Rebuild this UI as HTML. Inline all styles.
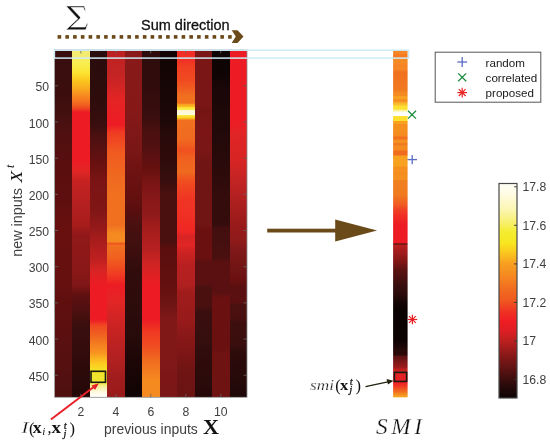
<!DOCTYPE html>
<html><head><meta charset="utf-8"><style>
html,body{margin:0;padding:0;background:#fff;}
svg{display:block;}
.sans{font-family:"Liberation Sans",Arial,sans-serif;}
.serif{font-family:"Liberation Serif","Times New Roman",serif;}
</style></head><body>
<svg width="550" height="444" viewBox="0 0 550 444">
<defs><linearGradient id="c0" gradientUnits="userSpaceOnUse" x1="0" y1="50.0" x2="0" y2="397.3"><stop offset="0.0000" stop-color="#380e0e"/><stop offset="0.1296" stop-color="#3c0e0e"/><stop offset="0.1872" stop-color="#441010"/><stop offset="0.2390" stop-color="#501010"/><stop offset="0.3311" stop-color="#5a0e0e"/><stop offset="0.4319" stop-color="#5e0e0e"/><stop offset="0.5039" stop-color="#681010"/><stop offset="0.6766" stop-color="#661010"/><stop offset="0.7198" stop-color="#600e0e"/><stop offset="0.8350" stop-color="#5a1010"/><stop offset="0.9991" stop-color="#501010"/></linearGradient><linearGradient id="c1" gradientUnits="userSpaceOnUse" x1="0" y1="50.0" x2="0" y2="397.3"><stop offset="0.0000" stop-color="#f4ec70"/><stop offset="0.0216" stop-color="#f4ec70"/><stop offset="0.0245" stop-color="#f6ee60"/><stop offset="0.0461" stop-color="#f8ec48"/><stop offset="0.0691" stop-color="#fce030"/><stop offset="0.0864" stop-color="#fcc820"/><stop offset="0.1094" stop-color="#f9ac20"/><stop offset="0.1267" stop-color="#f89020"/><stop offset="0.1440" stop-color="#f57820"/><stop offset="0.1584" stop-color="#f06020"/><stop offset="0.1699" stop-color="#f04022"/><stop offset="0.1785" stop-color="#ed1c24"/><stop offset="0.2303" stop-color="#ed1c24"/><stop offset="0.3167" stop-color="#ed1c24"/><stop offset="0.3513" stop-color="#e02525"/><stop offset="0.3743" stop-color="#c82222"/><stop offset="0.4319" stop-color="#b82020"/><stop offset="0.5039" stop-color="#a81c1c"/><stop offset="0.5327" stop-color="#901818"/><stop offset="0.6335" stop-color="#8a1818"/><stop offset="0.6766" stop-color="#801616"/><stop offset="0.7054" stop-color="#601010"/><stop offset="0.7486" stop-color="#4e1010"/><stop offset="0.7918" stop-color="#3a0e0e"/><stop offset="0.8638" stop-color="#340c0c"/><stop offset="0.9214" stop-color="#2c0a0a"/><stop offset="0.9991" stop-color="#250808"/></linearGradient><linearGradient id="c2" gradientUnits="userSpaceOnUse" x1="0" y1="50.0" x2="0" y2="397.3"><stop offset="0.0000" stop-color="#2a0c0c"/><stop offset="0.1440" stop-color="#2e0c0c"/><stop offset="0.2160" stop-color="#3a0e0e"/><stop offset="0.2447" stop-color="#4a1010"/><stop offset="0.2879" stop-color="#5a1010"/><stop offset="0.3311" stop-color="#6a1010"/><stop offset="0.3743" stop-color="#7a1414"/><stop offset="0.4607" stop-color="#801616"/><stop offset="0.5183" stop-color="#981a1a"/><stop offset="0.5471" stop-color="#a81c1c"/><stop offset="0.6047" stop-color="#c02020"/><stop offset="0.6335" stop-color="#d82424"/><stop offset="0.6766" stop-color="#ed1c24"/><stop offset="0.7774" stop-color="#ed1c24"/><stop offset="0.7947" stop-color="#f04a22"/><stop offset="0.8293" stop-color="#f06a20"/><stop offset="0.8494" stop-color="#f58020"/><stop offset="0.8696" stop-color="#f89020"/><stop offset="0.8868" stop-color="#fbb020"/><stop offset="0.9070" stop-color="#fcd020"/><stop offset="0.9243" stop-color="#f2e22a"/><stop offset="0.9559" stop-color="#f0e630"/><stop offset="0.9703" stop-color="#f8f0a0"/><stop offset="0.9847" stop-color="#fff8e0"/><stop offset="0.9991" stop-color="#ffffff"/></linearGradient><linearGradient id="c3" gradientUnits="userSpaceOnUse" x1="0" y1="50.0" x2="0" y2="397.3"><stop offset="0.0000" stop-color="#b82020"/><stop offset="0.0230" stop-color="#c02222"/><stop offset="0.0720" stop-color="#c42424"/><stop offset="0.1094" stop-color="#d42424"/><stop offset="0.1440" stop-color="#e42424"/><stop offset="0.2160" stop-color="#ed1c24"/><stop offset="0.2361" stop-color="#f03a22"/><stop offset="0.2649" stop-color="#f04a22"/><stop offset="0.2937" stop-color="#f05a20"/><stop offset="0.3225" stop-color="#f06020"/><stop offset="0.3686" stop-color="#f06a20"/><stop offset="0.4175" stop-color="#f07020"/><stop offset="0.5039" stop-color="#f07020"/><stop offset="0.5298" stop-color="#f58a20"/><stop offset="0.5528" stop-color="#f58a20"/><stop offset="0.5557" stop-color="#f05a20"/><stop offset="0.5600" stop-color="#f05a20"/><stop offset="0.5629" stop-color="#f07020"/><stop offset="0.5989" stop-color="#f06020"/><stop offset="0.6191" stop-color="#f05020"/><stop offset="0.6479" stop-color="#f03a22"/><stop offset="0.6766" stop-color="#ed1c24"/><stop offset="0.7198" stop-color="#e42525"/><stop offset="0.7630" stop-color="#d42424"/><stop offset="0.8206" stop-color="#c42222"/><stop offset="0.8926" stop-color="#b02020"/><stop offset="0.9502" stop-color="#a01c1c"/><stop offset="0.9991" stop-color="#981a1a"/></linearGradient><linearGradient id="c4" gradientUnits="userSpaceOnUse" x1="0" y1="50.0" x2="0" y2="397.3"><stop offset="0.0000" stop-color="#8a1a1a"/><stop offset="0.1728" stop-color="#861818"/><stop offset="0.2303" stop-color="#801818"/><stop offset="0.2879" stop-color="#7a1616"/><stop offset="0.3455" stop-color="#6e1212"/><stop offset="0.4175" stop-color="#661010"/><stop offset="0.4607" stop-color="#5a0e0e"/><stop offset="0.5039" stop-color="#4a1010"/><stop offset="0.5759" stop-color="#3e0e0e"/><stop offset="0.6335" stop-color="#320c0c"/><stop offset="0.7198" stop-color="#2e0c0c"/><stop offset="0.8350" stop-color="#260a0a"/><stop offset="0.8926" stop-color="#1e0606"/><stop offset="0.9991" stop-color="#100404"/></linearGradient><linearGradient id="c5" gradientUnits="userSpaceOnUse" x1="0" y1="50.0" x2="0" y2="397.3"><stop offset="0.0000" stop-color="#2e0c0c"/><stop offset="0.1152" stop-color="#320c0c"/><stop offset="0.1958" stop-color="#3a0e0e"/><stop offset="0.2303" stop-color="#4a1010"/><stop offset="0.2735" stop-color="#501010"/><stop offset="0.3023" stop-color="#5a1010"/><stop offset="0.3455" stop-color="#681010"/><stop offset="0.3801" stop-color="#7a1414"/><stop offset="0.4319" stop-color="#881818"/><stop offset="0.4751" stop-color="#901a1a"/><stop offset="0.5039" stop-color="#a01c1c"/><stop offset="0.5759" stop-color="#b82020"/><stop offset="0.6191" stop-color="#d02424"/><stop offset="0.6766" stop-color="#ed1c24"/><stop offset="0.7774" stop-color="#ed1c24"/><stop offset="0.8120" stop-color="#f03a22"/><stop offset="0.8494" stop-color="#f04a22"/><stop offset="0.8926" stop-color="#f06a20"/><stop offset="0.9502" stop-color="#f58a20"/><stop offset="0.9991" stop-color="#f58a20"/></linearGradient><linearGradient id="c6" gradientUnits="userSpaceOnUse" x1="0" y1="50.0" x2="0" y2="397.3"><stop offset="0.0000" stop-color="#120404"/><stop offset="0.1440" stop-color="#180606"/><stop offset="0.2016" stop-color="#1e0808"/><stop offset="0.2591" stop-color="#2a0a0a"/><stop offset="0.3311" stop-color="#300c0c"/><stop offset="0.3743" stop-color="#380e0e"/><stop offset="0.4175" stop-color="#4a1010"/><stop offset="0.5528" stop-color="#4a1010"/><stop offset="0.5701" stop-color="#5a0e0e"/><stop offset="0.6335" stop-color="#600e0e"/><stop offset="0.6910" stop-color="#661010"/><stop offset="0.7198" stop-color="#6a1414"/><stop offset="0.7774" stop-color="#801818"/><stop offset="0.8926" stop-color="#801818"/><stop offset="0.9991" stop-color="#7a1616"/></linearGradient><linearGradient id="c7" gradientUnits="userSpaceOnUse" x1="0" y1="50.0" x2="0" y2="397.3"><stop offset="0.0000" stop-color="#f02c24"/><stop offset="0.0288" stop-color="#f03024"/><stop offset="0.0489" stop-color="#f04022"/><stop offset="0.0864" stop-color="#f04a20"/><stop offset="0.1094" stop-color="#f05a20"/><stop offset="0.1325" stop-color="#f07020"/><stop offset="0.1526" stop-color="#f07020"/><stop offset="0.1569" stop-color="#f8a020"/><stop offset="0.1641" stop-color="#fcc020"/><stop offset="0.1659" stop-color="#f8e830"/><stop offset="0.1713" stop-color="#fce850"/><stop offset="0.1742" stop-color="#fff8d0"/><stop offset="0.1857" stop-color="#fffbe0"/><stop offset="0.1886" stop-color="#fbe840"/><stop offset="0.1958" stop-color="#fcd020"/><stop offset="0.1987" stop-color="#f8a020"/><stop offset="0.2030" stop-color="#f07020"/><stop offset="0.2591" stop-color="#f06a20"/><stop offset="0.2879" stop-color="#f05020"/><stop offset="0.3110" stop-color="#f06020"/><stop offset="0.3513" stop-color="#f06a20"/><stop offset="0.3743" stop-color="#f05020"/><stop offset="0.4031" stop-color="#f04022"/><stop offset="0.4319" stop-color="#f03424"/><stop offset="0.4751" stop-color="#f03024"/><stop offset="0.5240" stop-color="#ee2624"/><stop offset="0.5356" stop-color="#d82424"/><stop offset="0.5615" stop-color="#e02525"/><stop offset="0.5903" stop-color="#c82222"/><stop offset="0.6191" stop-color="#b82020"/><stop offset="0.6766" stop-color="#b02020"/><stop offset="0.6968" stop-color="#a01c1c"/><stop offset="0.7774" stop-color="#981a1a"/><stop offset="0.8206" stop-color="#8a1818"/><stop offset="0.8638" stop-color="#801616"/><stop offset="0.9214" stop-color="#701414"/><stop offset="0.9991" stop-color="#6a1414"/></linearGradient><linearGradient id="c8" gradientUnits="userSpaceOnUse" x1="0" y1="50.0" x2="0" y2="397.3"><stop offset="0.0000" stop-color="#7a1616"/><stop offset="0.1584" stop-color="#7a1616"/><stop offset="0.1728" stop-color="#741414"/><stop offset="0.2303" stop-color="#7c1616"/><stop offset="0.2879" stop-color="#7a1616"/><stop offset="0.3311" stop-color="#701414"/><stop offset="0.5039" stop-color="#701414"/><stop offset="0.5183" stop-color="#6a1010"/><stop offset="0.5989" stop-color="#6a1010"/><stop offset="0.6104" stop-color="#5a1010"/><stop offset="0.6709" stop-color="#5a1010"/><stop offset="0.6853" stop-color="#4a1010"/><stop offset="0.7371" stop-color="#4a1010"/><stop offset="0.7544" stop-color="#3a0e0e"/><stop offset="0.8350" stop-color="#360e0e"/><stop offset="0.8782" stop-color="#300c0c"/><stop offset="0.9646" stop-color="#2a0a0a"/><stop offset="0.9991" stop-color="#250808"/></linearGradient><linearGradient id="c9" gradientUnits="userSpaceOnUse" x1="0" y1="50.0" x2="0" y2="397.3"><stop offset="0.0000" stop-color="#0e0404"/><stop offset="0.0806" stop-color="#100404"/><stop offset="0.0921" stop-color="#180606"/><stop offset="0.1728" stop-color="#1e0808"/><stop offset="0.2879" stop-color="#260a0a"/><stop offset="0.3455" stop-color="#2c0a0a"/><stop offset="0.4175" stop-color="#340c0c"/><stop offset="0.5010" stop-color="#340c0c"/><stop offset="0.5125" stop-color="#420e0e"/><stop offset="0.5989" stop-color="#4a1010"/><stop offset="0.6104" stop-color="#5a1010"/><stop offset="0.6997" stop-color="#5a1010"/><stop offset="0.7141" stop-color="#6a1010"/><stop offset="0.8638" stop-color="#6a1010"/><stop offset="0.8782" stop-color="#701212"/><stop offset="0.9991" stop-color="#6e1212"/></linearGradient><linearGradient id="c10" gradientUnits="userSpaceOnUse" x1="0" y1="50.0" x2="0" y2="397.3"><stop offset="0.0000" stop-color="#ed1c24"/><stop offset="0.2016" stop-color="#ed1c24"/><stop offset="0.2447" stop-color="#e02525"/><stop offset="0.3167" stop-color="#d82424"/><stop offset="0.3599" stop-color="#c82424"/><stop offset="0.4319" stop-color="#b02020"/><stop offset="0.5039" stop-color="#981a1a"/><stop offset="0.5471" stop-color="#901a1a"/><stop offset="0.5759" stop-color="#801818"/><stop offset="0.6335" stop-color="#701414"/><stop offset="0.6623" stop-color="#6a1010"/><stop offset="0.6824" stop-color="#5a1010"/><stop offset="0.7256" stop-color="#5a1010"/><stop offset="0.7342" stop-color="#4a1010"/><stop offset="0.7717" stop-color="#4a1010"/><stop offset="0.7832" stop-color="#3e0e0e"/><stop offset="0.8494" stop-color="#3a0e0e"/><stop offset="0.8638" stop-color="#300c0c"/><stop offset="0.8926" stop-color="#2a0a0a"/><stop offset="0.9502" stop-color="#260a0a"/><stop offset="0.9991" stop-color="#200808"/></linearGradient><linearGradient id="smi" gradientUnits="userSpaceOnUse" x1="0" y1="50.0" x2="0" y2="397.3"><stop offset="0.0000" stop-color="#f57a20"/><stop offset="0.0086" stop-color="#f58a28"/><stop offset="0.0144" stop-color="#f57a20"/><stop offset="0.0230" stop-color="#f57a20"/><stop offset="0.0259" stop-color="#f58a25"/><stop offset="0.0403" stop-color="#f58a25"/><stop offset="0.0461" stop-color="#f58025"/><stop offset="0.0518" stop-color="#f58a25"/><stop offset="0.0576" stop-color="#f58025"/><stop offset="0.0633" stop-color="#f07020"/><stop offset="0.1152" stop-color="#f07a20"/><stop offset="0.1238" stop-color="#f58a20"/><stop offset="0.1336" stop-color="#f58a20"/><stop offset="0.1339" stop-color="#f8a020"/><stop offset="0.1411" stop-color="#f8a020"/><stop offset="0.1414" stop-color="#f59020"/><stop offset="0.1492" stop-color="#f59020"/><stop offset="0.1497" stop-color="#f8a828"/><stop offset="0.1595" stop-color="#fcc830"/><stop offset="0.1612" stop-color="#fde030"/><stop offset="0.1699" stop-color="#fde030"/><stop offset="0.1728" stop-color="#f8f080"/><stop offset="0.1785" stop-color="#fffbe0"/><stop offset="0.1814" stop-color="#ffffff"/><stop offset="0.1886" stop-color="#ffffff"/><stop offset="0.1900" stop-color="#fde030"/><stop offset="0.2030" stop-color="#fde030"/><stop offset="0.2044" stop-color="#f8a020"/><stop offset="0.2119" stop-color="#f8a020"/><stop offset="0.2131" stop-color="#f59020"/><stop offset="0.2332" stop-color="#f59020"/><stop offset="0.2404" stop-color="#f58a20"/><stop offset="0.2476" stop-color="#f58a20"/><stop offset="0.2505" stop-color="#f07020"/><stop offset="0.2563" stop-color="#f07020"/><stop offset="0.2591" stop-color="#f59020"/><stop offset="0.2663" stop-color="#f59020"/><stop offset="0.2678" stop-color="#f07a20"/><stop offset="0.2735" stop-color="#f07a20"/><stop offset="0.2764" stop-color="#f58a20"/><stop offset="0.2879" stop-color="#f58a20"/><stop offset="0.2908" stop-color="#f06a20"/><stop offset="0.3023" stop-color="#f06a20"/><stop offset="0.3052" stop-color="#f8a020"/><stop offset="0.3340" stop-color="#f8a020"/><stop offset="0.3369" stop-color="#f59020"/><stop offset="0.3513" stop-color="#f59020"/><stop offset="0.3542" stop-color="#f58a20"/><stop offset="0.3628" stop-color="#f59020"/><stop offset="0.3729" stop-color="#f59020"/><stop offset="0.3743" stop-color="#f08020"/><stop offset="0.4175" stop-color="#f07a20"/><stop offset="0.4319" stop-color="#f06a20"/><stop offset="0.4463" stop-color="#f05a22"/><stop offset="0.4607" stop-color="#f04024"/><stop offset="0.4751" stop-color="#f03024"/><stop offset="0.5039" stop-color="#ed1c24"/><stop offset="0.5543" stop-color="#ed1c24"/><stop offset="0.5557" stop-color="#801818"/><stop offset="0.5600" stop-color="#801818"/><stop offset="0.5615" stop-color="#b82020"/><stop offset="0.5759" stop-color="#a81c1c"/><stop offset="0.5903" stop-color="#981a1a"/><stop offset="0.6104" stop-color="#801616"/><stop offset="0.6335" stop-color="#5a1212"/><stop offset="0.6565" stop-color="#4a1010"/><stop offset="0.6766" stop-color="#3a0e0e"/><stop offset="0.7054" stop-color="#2a0a0a"/><stop offset="0.7285" stop-color="#140404"/><stop offset="0.7486" stop-color="#0a0202"/><stop offset="0.8350" stop-color="#0c0202"/><stop offset="0.8523" stop-color="#1a0606"/><stop offset="0.8667" stop-color="#2a0a0a"/><stop offset="0.8696" stop-color="#2a0808"/><stop offset="0.8782" stop-color="#2a0808"/><stop offset="0.8811" stop-color="#5a1212"/><stop offset="0.8897" stop-color="#6a1414"/><stop offset="0.8984" stop-color="#801818"/><stop offset="0.9070" stop-color="#901a1a"/><stop offset="0.9156" stop-color="#a01c1c"/><stop offset="0.9185" stop-color="#c02020"/><stop offset="0.9272" stop-color="#c82222"/><stop offset="0.9300" stop-color="#e02525"/><stop offset="0.9559" stop-color="#ed1c24"/><stop offset="0.9646" stop-color="#f03024"/><stop offset="0.9732" stop-color="#f04a22"/><stop offset="0.9790" stop-color="#f06020"/><stop offset="0.9847" stop-color="#f07020"/><stop offset="0.9905" stop-color="#f58a20"/><stop offset="0.9963" stop-color="#f8a020"/><stop offset="1.0000" stop-color="#f8a020"/></linearGradient><linearGradient id="cb" gradientUnits="userSpaceOnUse" x1="0" y1="183.5" x2="0" y2="398"><stop offset="0.0000" stop-color="#fffff8"/><stop offset="0.0536" stop-color="#fffbe0"/><stop offset="0.1235" stop-color="#fbf6b0"/><stop offset="0.1795" stop-color="#f8f070"/><stop offset="0.2261" stop-color="#f4ec30"/><stop offset="0.2774" stop-color="#f8e620"/><stop offset="0.3100" stop-color="#fcd020"/><stop offset="0.3427" stop-color="#f8b820"/><stop offset="0.3706" stop-color="#f8a020"/><stop offset="0.4126" stop-color="#f59020"/><stop offset="0.4499" stop-color="#f58020"/><stop offset="0.4965" stop-color="#f06a20"/><stop offset="0.5431" stop-color="#f05a20"/><stop offset="0.5991" stop-color="#f03024"/><stop offset="0.6457" stop-color="#ed1c24"/><stop offset="0.6830" stop-color="#e01e24"/><stop offset="0.7296" stop-color="#c02020"/><stop offset="0.7995" stop-color="#8a1818"/><stop offset="0.8695" stop-color="#5a1212"/><stop offset="0.9394" stop-color="#2a0a0a"/><stop offset="1.0000" stop-color="#0e0404"/></linearGradient></defs>
<rect width="550" height="444" fill="#fff"/>
<!-- sigma + sum direction -->
<text transform="translate(64.6,24.1) scale(1.16,1)" font-family="DejaVu Math TeX Gyre, DejaVu Serif, serif" font-size="22.45" fill="#111" stroke="#fff" stroke-width="0.35">&#8721;</text>
<text class="sans" x="141" y="29.7" font-size="14.5" fill="#111" stroke="#111" stroke-width="0.3">Sum direction</text>
<g fill="#6b4a1a"><rect x="57.60" y="35.1" width="3.6" height="3.6"/><rect x="65.35" y="35.1" width="3.6" height="3.6"/><rect x="73.10" y="35.1" width="3.6" height="3.6"/><rect x="80.85" y="35.1" width="3.6" height="3.6"/><rect x="88.60" y="35.1" width="3.6" height="3.6"/><rect x="96.35" y="35.1" width="3.6" height="3.6"/><rect x="104.10" y="35.1" width="3.6" height="3.6"/><rect x="111.85" y="35.1" width="3.6" height="3.6"/><rect x="119.60" y="35.1" width="3.6" height="3.6"/><rect x="127.35" y="35.1" width="3.6" height="3.6"/><rect x="135.10" y="35.1" width="3.6" height="3.6"/><rect x="142.85" y="35.1" width="3.6" height="3.6"/><rect x="150.60" y="35.1" width="3.6" height="3.6"/><rect x="158.35" y="35.1" width="3.6" height="3.6"/><rect x="166.10" y="35.1" width="3.6" height="3.6"/><rect x="173.85" y="35.1" width="3.6" height="3.6"/><rect x="181.60" y="35.1" width="3.6" height="3.6"/><rect x="189.35" y="35.1" width="3.6" height="3.6"/><rect x="197.10" y="35.1" width="3.6" height="3.6"/><rect x="204.85" y="35.1" width="3.6" height="3.6"/><rect x="212.60" y="35.1" width="3.6" height="3.6"/><rect x="220.35" y="35.1" width="3.6" height="3.6"/><rect x="228.10" y="35.1" width="3.6" height="3.6"/></g>
<polygon points="231.7,30.2 237.5,30.2 243.5,36.6 237.5,43 231.7,43 235.8,36.6" fill="#6b4a1a"/>
<!-- heatmap -->
<g shape-rendering="crispEdges"><rect x="54.60" y="50.0" width="17.79" height="347.30" fill="url(#c0)"/><rect x="72.09" y="50.0" width="17.79" height="347.30" fill="url(#c1)"/><rect x="89.58" y="50.0" width="17.79" height="347.30" fill="url(#c2)"/><rect x="107.07" y="50.0" width="17.79" height="347.30" fill="url(#c3)"/><rect x="124.56" y="50.0" width="17.79" height="347.30" fill="url(#c4)"/><rect x="142.05" y="50.0" width="17.79" height="347.30" fill="url(#c5)"/><rect x="159.54" y="50.0" width="17.79" height="347.30" fill="url(#c6)"/><rect x="177.03" y="50.0" width="17.79" height="347.30" fill="url(#c7)"/><rect x="194.52" y="50.0" width="17.79" height="347.30" fill="url(#c8)"/><rect x="212.01" y="50.0" width="17.79" height="347.30" fill="url(#c9)"/><rect x="229.50" y="50.0" width="17.79" height="347.30" fill="url(#c10)"/></g>
<rect x="54.6" y="50.0" width="192.39" height="347.30" fill="none" stroke="#8a8a8a" stroke-width="0.8"/>
<g stroke="#666" stroke-width="0.8"><line x1="54.6" y1="85.82" x2="58.1" y2="85.82"/><line x1="246.98999999999998" y1="85.82" x2="243.48999999999998" y2="85.82"/><line x1="54.6" y1="121.99" x2="58.1" y2="121.99"/><line x1="246.98999999999998" y1="121.99" x2="243.48999999999998" y2="121.99"/><line x1="54.6" y1="158.17" x2="58.1" y2="158.17"/><line x1="246.98999999999998" y1="158.17" x2="243.48999999999998" y2="158.17"/><line x1="54.6" y1="194.35" x2="58.1" y2="194.35"/><line x1="246.98999999999998" y1="194.35" x2="243.48999999999998" y2="194.35"/><line x1="54.6" y1="230.52" x2="58.1" y2="230.52"/><line x1="246.98999999999998" y1="230.52" x2="243.48999999999998" y2="230.52"/><line x1="54.6" y1="266.70" x2="58.1" y2="266.70"/><line x1="246.98999999999998" y1="266.70" x2="243.48999999999998" y2="266.70"/><line x1="54.6" y1="302.88" x2="58.1" y2="302.88"/><line x1="246.98999999999998" y1="302.88" x2="243.48999999999998" y2="302.88"/><line x1="54.6" y1="339.05" x2="58.1" y2="339.05"/><line x1="246.98999999999998" y1="339.05" x2="243.48999999999998" y2="339.05"/><line x1="54.6" y1="375.23" x2="58.1" y2="375.23"/><line x1="246.98999999999998" y1="375.23" x2="243.48999999999998" y2="375.23"/><line x1="80.84" y1="397.3" x2="80.84" y2="393.8"/><line x1="80.84" y1="50.0" x2="80.84" y2="53.5"/><line x1="115.81" y1="397.3" x2="115.81" y2="393.8"/><line x1="115.81" y1="50.0" x2="115.81" y2="53.5"/><line x1="150.79" y1="397.3" x2="150.79" y2="393.8"/><line x1="150.79" y1="50.0" x2="150.79" y2="53.5"/><line x1="185.77" y1="397.3" x2="185.77" y2="393.8"/><line x1="185.77" y1="50.0" x2="185.77" y2="53.5"/><line x1="220.75" y1="397.3" x2="220.75" y2="393.8"/><line x1="220.75" y1="50.0" x2="220.75" y2="53.5"/></g>
<g class="sans" font-size="12.2" fill="#404040"><text x="49" y="91.3" text-anchor="end">50</text><text x="49" y="127.5" text-anchor="end">100</text><text x="49" y="163.7" text-anchor="end">150</text><text x="49" y="199.8" text-anchor="end">200</text><text x="49" y="236.0" text-anchor="end">250</text><text x="49" y="272.2" text-anchor="end">300</text><text x="49" y="308.4" text-anchor="end">350</text><text x="49" y="344.6" text-anchor="end">400</text><text x="49" y="380.7" text-anchor="end">450</text><text x="80.8" y="415.6" text-anchor="middle">2</text><text x="115.8" y="415.6" text-anchor="middle">4</text><text x="150.8" y="415.6" text-anchor="middle">6</text><text x="185.8" y="415.6" text-anchor="middle">8</text><text x="220.8" y="415.6" text-anchor="middle">10</text></g>
<!-- highlight box -->
<rect x="91" y="371.3" width="14.5" height="11" fill="none" stroke="#1a1a10" stroke-width="1.6"/>
<!-- SMI column -->
<rect x="393.1" y="50.0" width="14.5" height="347.30" fill="url(#smi)"/>
<rect x="394.4" y="372.4" width="12.2" height="9" fill="none" stroke="#1a1a10" stroke-width="1.6"/>
<!-- light blue box -->
<rect x="54.4" y="50.2" width="354.2" height="7.9" fill="none" stroke="#cdebf6" stroke-width="1.5"/>
<!-- axis labels -->
<text class="sans" x="104" y="434.1" font-size="13.95" fill="#404040">previous inputs</text>
<text class="serif" x="203" y="433.6" font-size="21" font-weight="bold" fill="#111" textLength="16" lengthAdjust="spacingAndGlyphs">X</text>
<g transform="translate(21.5,256.8) rotate(-90)">
<text class="sans" x="0" y="0" font-size="14.4" fill="#404040">new inputs</text>
<text class="serif" x="74.3" y="0" font-size="17" font-style="italic" fill="#111" textLength="11.7" lengthAdjust="spacingAndGlyphs">X</text>
<text class="serif" x="88.8" y="-8" font-size="12" font-style="italic" fill="#111">t</text>
</g>
<!-- I(x_i,x_j^t) -->
<g class="serif" fill="#111">
<text x="21.3" y="432.7" font-size="16.5" font-style="italic" textLength="7.4" lengthAdjust="spacingAndGlyphs" stroke="#fff" stroke-width="0.3">I</text>
<text x="29" y="433.5" font-size="16.5">(</text>
<text x="32.7" y="432.7" font-size="16" font-weight="bold" textLength="8.9" lengthAdjust="spacingAndGlyphs">x</text>
<text x="42.2" y="435" font-size="11" font-style="italic">i</text>
<text x="47.6" y="432.7" font-size="16">,</text>
<text x="51.6" y="432.7" font-size="16" font-weight="bold" textLength="9.5" lengthAdjust="spacingAndGlyphs">x</text>
<text x="63.8" y="428.6" font-size="11" font-style="italic" stroke="#111" stroke-width="0.25">t</text>
<text x="63.6" y="436.9" font-size="10.5" font-style="italic" stroke="#111" stroke-width="0.25">j</text>
<text x="69.4" y="433.5" font-size="16.5">)</text>
</g>
<line x1="50.9" y1="419.5" x2="96" y2="385.3" stroke="#e8202a" stroke-width="2"/>
<polygon points="98.9,383.2 91.5,385.5 95,390" fill="#e8202a"/>
<!-- big arrow -->
<rect x="267.2" y="228.7" width="69" height="3.8" fill="#6b4a1a"/>
<polygon points="335.2,219.5 377.1,230.4 335.2,241.4" fill="#6b4a1a"/>
<!-- markers -->
<g stroke="#1a8a3a" stroke-width="1.3"><line x1="408" y1="110.8" x2="416" y2="118.6"/><line x1="408" y1="118.6" x2="416" y2="110.8"/></g>
<g stroke="#5a6cc8" stroke-width="1.3"><line x1="407.5" y1="159.6" x2="417" y2="159.6"/><line x1="412.2" y1="155" x2="412.2" y2="164.2"/></g>
<g stroke="#e82020" stroke-width="1.2"><line x1="407.6" y1="319.5" x2="417.2" y2="319.5"/><line x1="412.4" y1="314.7" x2="412.4" y2="324.3"/><line x1="409" y1="316.1" x2="415.8" y2="322.9"/><line x1="409" y1="322.9" x2="415.8" y2="316.1"/></g>
<!-- legend -->
<rect x="435.2" y="52.2" width="105.6" height="50" fill="#fff" stroke="#555" stroke-width="1"/>
<g stroke="#5a6cc8" stroke-width="1.3"><line x1="457.3" y1="62" x2="467.1" y2="62"/><line x1="462.2" y1="57.1" x2="462.2" y2="66.9"/></g>
<g stroke="#1a8a3a" stroke-width="1.3"><line x1="458.2" y1="73.4" x2="466.2" y2="81.2"/><line x1="458.2" y1="81.2" x2="466.2" y2="73.4"/></g>
<g stroke="#e82020" stroke-width="1.2"><line x1="457.4" y1="92.6" x2="467" y2="92.6"/><line x1="462.2" y1="87.8" x2="462.2" y2="97.4"/><line x1="458.8" y1="89.2" x2="465.6" y2="96"/><line x1="458.8" y1="96" x2="465.6" y2="89.2"/></g>
<g class="sans" font-size="11.6" fill="#1a1a1a">
<text x="485.6" y="66.6">random</text>
<text x="485.6" y="81.6">correlated</text>
<text x="485.6" y="96.8">proposed</text>
</g>
<!-- colorbar -->
<rect x="499" y="183.5" width="18" height="214.5" fill="url(#cb)" stroke="#484848" stroke-width="1.2"/>
<g stroke="#333" stroke-width="0.9"><line x1="517" y1="186.8" x2="514" y2="186.8"/><line x1="517" y1="225.3" x2="514" y2="225.3"/><line x1="517" y1="263.9" x2="514" y2="263.9"/><line x1="517" y1="302.4" x2="514" y2="302.4"/><line x1="517" y1="340.9" x2="514" y2="340.9"/><line x1="517" y1="379.4" x2="514" y2="379.4"/></g>
<g class="sans" font-size="12.2" fill="#404040"><text x="522.5" y="191.1">17.8</text><text x="522.5" y="229.6">17.6</text><text x="522.5" y="268.2">17.4</text><text x="522.5" y="306.7">17.2</text><text x="522.5" y="345.2">17</text><text x="522.5" y="383.7">16.8</text></g>
<!-- smi label -->
<g class="serif" fill="#111">
<text x="310" y="389.7" font-size="15.5" font-style="italic" textLength="24" lengthAdjust="spacingAndGlyphs" stroke="#fff" stroke-width="0.25">smi</text>
<text x="335.2" y="391" font-size="16.5">(</text>
<text x="339.9" y="389.7" font-size="15.5" font-weight="bold" textLength="8.2" lengthAdjust="spacingAndGlyphs">x</text>
<text x="349.7" y="385.4" font-size="11" font-style="italic" stroke="#111" stroke-width="0.25">t</text>
<text x="349.2" y="392.8" font-size="11" font-style="italic" stroke="#111" stroke-width="0.25">j</text>
<text x="355.4" y="391" font-size="16.5">)</text>
</g>
<line x1="365.5" y1="386.6" x2="389" y2="381.6" stroke="#22220f" stroke-width="1.4"/>
<polygon points="393.4,380.7 386.5,379 388,384.6" fill="#22220f"/>
<g class="serif" fill="#111" font-size="23.2" font-style="italic" stroke="#fff" stroke-width="0.25">
<text x="376" y="433.8">S</text><text x="391.3" y="433.8">M</text><text x="414.2" y="433.8">I</text>
</g>
</svg>
</body></html>
